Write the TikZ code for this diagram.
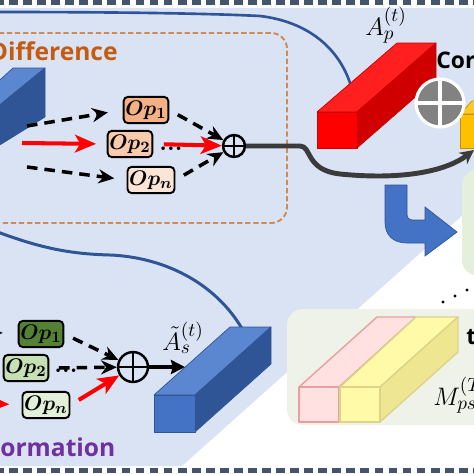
\documentclass[tikz,border=0pt]{standalone}
\usepackage{amsmath,amssymb}
\usepackage{bm}
\usepackage{fontspec}
\setsansfont{Open Sans}
\usepackage{tikz}
\usetikzlibrary{arrows.meta,positioning}

\definecolor{bgblue}{HTML}{DAE3F3}
\definecolor{framecol}{HTML}{44546A}
\definecolor{diffline}{HTML}{D08A55}
\definecolor{diffcol}{HTML}{C55A11}
\definecolor{formcol}{HTML}{7030A0}
\definecolor{curveblue}{HTML}{2F5597}
\definecolor{cubefront}{HTML}{4472C4}
\definecolor{cubetop}{HTML}{5B86D0}
\definecolor{cubeside}{HTML}{2F5597}
\definecolor{opA}{HTML}{F4B183}
\definecolor{opB}{HTML}{F8CBAD}
\definecolor{opC}{HTML}{FBE5D6}
\definecolor{opgA}{HTML}{548235}
\definecolor{opgB}{HTML}{C5E0B4}
\definecolor{opgC}{HTML}{E2F0D9}
\definecolor{flowgrey}{HTML}{3B3B3B}
\definecolor{gold}{HTML}{FFC000}
\definecolor{golddark}{HTML}{BF9000}
\definecolor{greenpanel}{HTML}{E4F0DB}
\definecolor{greypanel}{HTML}{EEF2E9}
\definecolor{pinkface}{HTML}{FFE1E1}
\definecolor{pinkedge}{HTML}{E6A0A0}
\definecolor{yelface}{HTML}{FFFAA8}
\definecolor{yelside}{HTML}{EEE690}
\definecolor{yeledge}{HTML}{DDD38A}

\tikzset{
  framedash/.style={framecol, line width=3.2pt, dash pattern=on 5pt off 3pt},
  opbox/.style={draw, line width=1.1pt, rounded corners=2.5pt, minimum width=24pt,
    minimum height=15pt, inner sep=1pt, font=\fontsize{12.5}{12.5}\selectfont},
  sumnode/.style={circle, draw, line width=1.4pt, inner sep=0pt,
    path picture={\draw[line width=1.4pt]
      (path picture bounding box.north) -- (path picture bounding box.south)
      (path picture bounding box.west) -- (path picture bounding box.east);}},
  dasharrow/.style={line width=2pt, dash pattern=on 6pt off 4pt,
    -{Stealth[length=9pt,width=8pt]}},
  redarrow/.style={red, line width=2.3pt, -{Stealth[length=12pt,width=10pt,inset=3pt]}},
  titletext/.style={font=\sffamily\bfseries\fontsize{14}{14}\selectfont, inner sep=0pt},
  mathlabel/.style={font=\fontsize{15}{15}\selectfont, inner sep=0pt},
  dotstext/.style={font=\bfseries\fontsize{14}{14}\selectfont, inner sep=0pt},
  face/.style={line width=0.4pt, line join=round}
}

\begin{document}
\begin{tikzpicture}[x=0.02cm, y=-0.02cm]
\useasboundingbox (0,0) rectangle (474,474);
\clip (0,0) rectangle (474,474);
% background panel
\fill[bgblue] (0,8) -- (474,8) -- (474,205) -- (182,466) -- (0,466) -- cycle;
% frame lines
\draw[framedash] (-5,2.5) -- (480,2.5);
\draw[framedash] (-5,470.5) -- (480,470.5);

% Block: Difference
\draw[diffline, line width=1.1pt, dash pattern=on 3pt off 1.6pt, rounded corners=9pt]
  (-40,33) rectangle (287,223);
\node[titletext, text=diffcol, anchor=east] (difftitle) at (118,51) {Difference};

% input cuboid (top left)
\filldraw[face, fill=cubetop, draw=cubeside] (13,68) -- (45,68) -- (-10,113) -- (-10,89) -- cycle;
\filldraw[face, fill=cubeside, draw=cubeside] (45,68) -- (45,117) -- (-10,151) -- (-10,113) -- cycle;
\coordinate (in1) at (27,126);
\coordinate (in2) at (22,143);
\coordinate (in3) at (27,167);

% long curves
\draw[curveblue, line width=1.5pt] (-5,12) .. controls (100,12) and (200,13) .. (260,16)
  .. controls (310,22) and (340,50) .. (351,86);
\draw[curveblue, line width=1.7pt] (-5,231) .. controls (40,248) and (70,254) .. (110,255)
  .. controls (160,257) and (215,280) .. (244,332);

% operations (top)
\node[opbox, fill=opA] (op1) at (146,110) {$\bm{Op_1}$};
\node[opbox, fill=opB] (op2) at (130,144) {$\bm{Op_2}$};
\node[opbox, fill=opC] (opn) at (151,180) {$\bm{Op_n}$};
\node[sumnode, minimum size=12.5pt] (sum1) at (234,146) {};
\node[dotstext] (dots1) at (171,149) {...};
\draw[dasharrow, shorten >=8.5pt] (in1) -- (op1.west);
\draw[redarrow, shorten >=6pt] (in2) -- (op2.west);
\draw[dasharrow, shorten >=7pt] (in3) -- (opn.west);
\draw[dasharrow, shorten <=5.5pt] (op1.east) -- (sum1);
\draw[redarrow, shorten <=6pt] (op2.east) -- (sum1);
\draw[dasharrow, shorten <=5.5pt] (opn.east) -- (sum1);

% flow to the right
\coordinate (yelin) at (474,150);
\draw[flowgrey, line width=2.8pt, -{Stealth[length=8pt,width=8pt]}] (sum1.east) -- (300,146)
  .. controls (312,146) and (305,170) .. (340,174)
  .. controls (400,180) and (445,172) .. (yelin);

% red cuboid A_p
\filldraw[face, fill=red!88!white, draw=red!80!black] (317,112) -- (397,43) -- (436,43) -- (357,112) -- cycle;
\filldraw[face, fill=red!82!black, draw=red!80!black] (357,112) -- (436,43) -- (436,79) -- (357,148) -- cycle;
\filldraw[face, fill=red, draw=red!80!black] (317,112) rectangle (357,148);
\node[mathlabel] (aplabel) at (386,25) {$A_p^{(t)}$};

% yellow cuboid (right edge)
\filldraw[face, fill=gold!85!white, draw=golddark] (460,114) -- (472,101) -- (500,101) -- (488,114) -- cycle;
\filldraw[face, fill=gold, draw=golddark] (460,114) rectangle (500,148);

% grey combine node
\filldraw[fill=gray!98, draw=white, line width=1.8pt] (440,103) circle (24);
\draw[white, line width=1.8pt] (440,79) -- (440,127) (416,103) -- (464,103);
\node[font=\sffamily\bfseries\fontsize{13}{13}\selectfont, anchor=west, inner sep=0pt] (cortext) at (436,60) {Cor};

% green panel (right)
\fill[greenpanel, rounded corners=8pt] (462,170) rectangle (540,275);

% bent arrow
\filldraw[fill=cubefront, draw=cubeside, line width=0.4pt] (385,185) -- (407,185) -- (407,214)
  .. controls (407,218) and (409,220) .. (413,220) -- (425,220) -- (425,207) -- (457,232)
  -- (425,256) -- (425,243) -- (407,243) .. controls (393,243) and (385,235) .. (385,222) -- cycle;

% dots
\fill (443,302) circle (1.7) (455,296) circle (1.7) (467,290) circle (1.7);

% grey panel with stacked cuboid
\fill[greypanel, rounded corners=9pt] (287,309) rectangle (540,425);
\filldraw[face, fill=pinkface, draw=pinkedge, line width=0.8pt] (299,387) -- (377,317) -- (416,317) -- (339,387) -- cycle;
\filldraw[face, fill=pinkface, draw=pinkedge, line width=0.8pt] (299,387) rectangle (339,422);
\filldraw[face, fill=yelface, draw=yeledge, line width=0.8pt] (340,387) -- (416,317) -- (458,317) -- (380,387) -- cycle;
\filldraw[face, fill=yelside, draw=yeledge, line width=0.8pt] (380,387) -- (458,317) -- (458,352) -- (380,422) -- cycle;
\filldraw[face, fill=yelface, draw=yeledge, line width=0.8pt] (340,387) rectangle (380,422);
\node[font=\sffamily\bfseries\fontsize{13}{13}\selectfont, anchor=west, inner sep=0pt] (ttext) at (466,337) {t};
\node[font=\fontsize{15}{15}\selectfont, anchor=west, inner sep=0pt] (mlabel) at (433,395) {$M_{ps}^{(T)}$};

% operations (bottom)
\node[opbox, fill=opgA] (gop1) at (41,334) {$\bm{Op_1}$};
\node[opbox, fill=opgB] (gop2) at (26,368) {$\bm{Op_2}$};
\node[opbox, fill=opgC] (gopn) at (46,405) {$\bm{Op_n}$};
\node[sumnode, minimum size=17pt] (sum2) at (133,367) {};
\node[dotstext] (dots2) at (66,371) {...};
\coordinate (gin1) at (-40,330);
\coordinate (gin3) at (-40,402);
\draw[dasharrow, shorten >=8.5pt] (gin1) -- (gop1.west);
\draw[redarrow, shorten >=7pt] (gin3) -- (gopn.west);
\draw[dasharrow, shorten <=5.5pt] (gop1.east) -- (sum2);
\draw[dasharrow, shorten <=5.5pt] (gop2.east) -- (sum2);
\draw[redarrow, shorten <=5.5pt] (gopn.east) -- (sum2);

% blue cuboid A_s
\filldraw[face, fill=cubetop, draw=cubeside] (154,395) -- (230,327) -- (271,327) -- (195,395) -- cycle;
\filldraw[face, fill=cubeside, draw=cubeside] (195,395) -- (271,327) -- (271,364) -- (195,432) -- cycle;
\filldraw[face, fill=cubefront, draw=cubeside] (154,395) rectangle (195,432);
\coordinate (asin) at (185,367);
\draw[line width=2pt, -{Stealth[length=8pt,width=8pt,inset=1pt]}] (sum2) -- (asin);
\node[mathlabel] (aslabel) at (183,338) {$\tilde{A}_s^{(t)}$};

\node[titletext, text=formcol, anchor=base west] (formtitle) at (0,456) {ormation};
\end{tikzpicture}
\end{document}
